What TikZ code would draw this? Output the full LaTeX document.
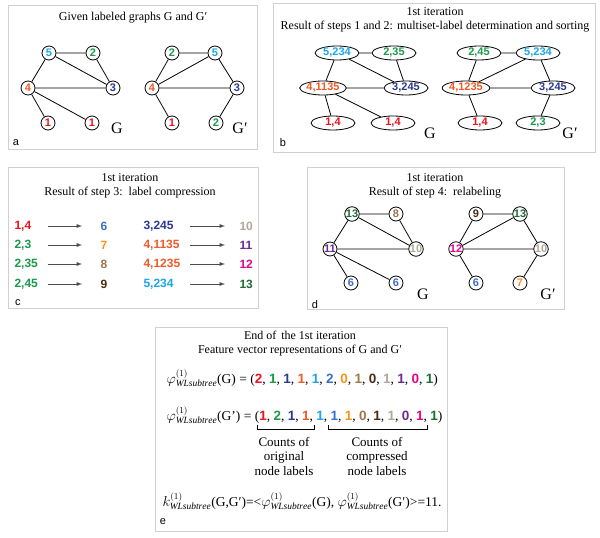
\documentclass[tikz,border=0pt]{standalone}
\usepackage{fontspec}
\setmainfont{Liberation Serif}
\setsansfont{Liberation Sans}
\usetikzlibrary{shapes.geometric,decorations.pathreplacing}
\definecolor{c1}{HTML}{E8141E}\definecolor{c2}{HTML}{1A9A4A}\definecolor{c3}{HTML}{2B3990}
\definecolor{c4}{HTML}{F15A29}\definecolor{c5}{HTML}{1CA6E6}\definecolor{c6}{HTML}{3B6FC4}
\definecolor{c7}{HTML}{F7941D}\definecolor{c8}{HTML}{A0764A}\definecolor{c9}{HTML}{4B2C12}
\definecolor{c10}{HTML}{B0A89C}\definecolor{c11}{HTML}{6A2C91}\definecolor{c12}{HTML}{EC008C}
\definecolor{c13}{HTML}{1E6B34}\definecolor{frm}{HTML}{D0D0D0}
\newcommand\cn[2]{\textcolor{#1}{\textsf{\bfseries #2}}}
\newcommand\phiw{$\varphi^{(1)}_{\mathit{WLsubtree}}$}
\begin{document}
\begin{tikzpicture}[x=1pt,y=-1pt,
  panel/.style={draw=frm,line width=1pt},
  v/.style={circle,draw,line width=0.8pt,minimum size=14pt,inner sep=0pt,font=\sffamily\bfseries\fontsize{11}{12}\selectfont},
  e/.style={ellipse,draw,line width=0.8pt,minimum width=44pt,minimum height=14pt,inner sep=0pt,font=\sffamily\bfseries\fontsize{11}{12}\selectfont},
  ed/.style={line width=0.8pt},
  ttl/.style={font=\fontsize{12}{14}\selectfont,align=center},
  gl/.style={font=\fontsize{16}{17}\selectfont},
  pl/.style={font=\sffamily\fontsize{11}{12}\selectfont},
  cl/.style={font=\sffamily\bfseries\fontsize{12}{13}\selectfont,anchor=west},
  ar/.style={-latex,line width=0.9pt,draw=black!70},
  vec/.style={font=\fontsize{13.5}{15}\selectfont,anchor=west},
  cnt/.style={font=\fontsize{13}{14.5}\selectfont,align=center}]
\useasboundingbox (0,0) rectangle (600,538);
\fill[white] (0,0) rectangle (600,538);
% panel a
\draw[panel] (8,5) rectangle (257,149);
\node[ttl] (ta) at (133,18) {Given labeled graphs G and G′};
\node[pl] (la) at (16,143) {a};
\node[v,text=c5] (a5) at (49,53) {5};
\node[v,text=c2] (a2) at (93,53) {2};
\node[v,text=c4] (a4) at (28,88) {4};
\node[v,text=c3] (a3) at (113,88) {3};
\node[v,text=c1] (a1) at (48,123) {1};
\node[v,text=c1] (a1b) at (92,123) {1};
\node[gl] (aG) at (117,128) {G};
\draw[ed] (a5)--(a2) (a5)--(a4) (a5)--(a3) (a2)--(a3) (a4)--(a3) (a4)--(a1) (a4)--(a1b);
\node[v,text=c2] (b2) at (172,53) {2};
\node[v,text=c5] (b5) at (215,53) {5};
\node[v,text=c4] (b4) at (152,88) {4};
\node[v,text=c3] (b3) at (237,88) {3};
\node[v,text=c1] (b1) at (172,123) {1};
\node[v,text=c2] (b2b) at (216,123) {2};
\node[gl] (bG) at (240,128) {G′};
\draw[ed] (b2)--(b5) (b2)--(b4) (b5)--(b4) (b5)--(b3) (b4)--(b3) (b4)--(b1) (b3)--(b2b);
% panel b
\draw[panel] (273,3) rectangle (595,152);
\node[ttl] (tb) at (435,20) {1st iteration\\Result of steps 1 and 2: multiset-label determination and sorting};
\node[pl] (lb) at (283,143) {b};
\node[e,text=c5] (c5) at (337,53) {5,234};
\node[e,text=c2] (c2) at (394,53) {2,35};
\node[e,text=c4] (c4) at (323,88) {4,1135};
\node[e,text=c3] (c3) at (406,88) {3,245};
\node[e,text=c1] (c1) at (333,123) {1,4};
\node[e,text=c1] (c1b) at (393,123) {1,4};
\node[gl] (cG) at (430,133) {G};
\draw[ed] (c5)--(c2) (c5)--(c4) (c5)--(c3) (c2)--(c3) (c4)--(c3) (c4)--(c1) (c4)--(c1b);
\node[e,text=c2] (d2) at (479,53) {2,45};
\node[e,text=c5] (d5) at (538,53) {5,234};
\node[e,text=c4] (d4) at (466,88) {4,1235};
\node[e,text=c3] (d3) at (553,88) {3,245};
\node[e,text=c1] (d1) at (480,123) {1,4};
\node[e,text=c2] (d2b) at (538,123) {2,3};
\node[gl] (dG) at (570,133) {G′};
\draw[ed] (d2)--(d5) (d2)--(d4) (d5)--(d4) (d5)--(d3) (d4)--(d3) (d4)--(d1) (d3)--(d2b);
% panel c
\draw[panel] (8,167) rectangle (258,308);
\node[ttl] (tc) at (130,186) {1st iteration\\Result of step 3:\, label compression};
\node[pl] (lc) at (18,303) {c};
\foreach \i/\y/\l/\lc/\r/\rc/\L/\Lc/\R/\Rc in {1/226/{1,4}/c1/6/c6/{3,245}/c3/10/c10, 2/245/{2,3}/c2/7/c7/{4,1135}/c4/11/c11, 3/264/{2,35}/c2/8/c8/{4,1235}/c4/12/c12, 4/284/{2,45}/c2/9/c9/{5,234}/c5/13/c13}{
  \node[cl,text=\lc] (l\i) at (11,\y) {\l};
  \node[cl,text=\rc] (r\i) at (97,\y) {\r};
  \node[cl,text=\Lc] (L\i) at (140,\y) {\L};
  \node[cl,text=\Rc] (R\i) at (236,\y) {\R};
  \coordinate (p\i) at (48,\y); \coordinate (q\i) at (82,\y);
  \coordinate (P\i) at (190,\y); \coordinate (Q\i) at (225,\y);
  \draw[ar] (p\i)--(q\i); \draw[ar] (P\i)--(Q\i);}
% panel d
\draw[panel] (307,167) rectangle (564,309);
\node[ttl] (td) at (435,186) {1st iteration\\Result of step 4:\, relabeling};
\node[pl] (ld) at (315,305) {d};
\node[v,text=c13] (f13) at (352,214) {13};
\node[v,text=c8] (f8) at (396,214) {8};
\node[v,text=c11] (f11) at (330,249) {11};
\node[v,text=c10] (f10) at (416,249) {10};
\node[v,text=c6] (f6) at (351,283) {6};
\node[v,text=c6] (f6b) at (396,283) {6};
\node[gl] (fG) at (423,294) {G};
\draw[ed] (f13)--(f8) (f13)--(f11) (f13)--(f10) (f8)--(f10) (f11)--(f10) (f11)--(f6) (f11)--(f6b);
\node[v,text=c9] (g9) at (476,214) {9};
\node[v,text=c13] (g13) at (520,214) {13};
\node[v,text=c12] (g12) at (456,249) {12};
\node[v,text=c10] (g10) at (541,249) {10};
\node[v,text=c6] (g6) at (476,283) {6};
\node[v,text=c7] (g7) at (520,283) {7};
\node[gl] (gG) at (548,294) {G′};
\draw[ed] (g9)--(g13) (g9)--(g12) (g13)--(g12) (g13)--(g10) (g12)--(g10) (g12)--(g6) (g10)--(g7);
% panel e
\draw[panel] (155,327) rectangle (447,531);
\node[ttl] (te) at (300,344) {End of\, the 1st iteration\\Feature vector representations of G and G′};
\node[pl] (le) at (163,522) {e};
\node[vec] (v1) at (163,378) {\phiw(G) = (\cn{c1}{2}, \cn{c2}{1}, \cn{c3}{1}, \cn{c4}{1}, \cn{c5}{1}, \cn{c6}{2}, \cn{c7}{0}, \cn{c8}{1}, \cn{c9}{0}, \cn{c10}{1}, \cn{c11}{1}, \cn{c12}{0}, \cn{c13}{1})};
\node[vec] (v2) at (163,415) {\phiw(G’) = (\cn{c1}{1}, \cn{c2}{2}, \cn{c3}{1}, \cn{c4}{1}, \cn{c5}{1}, \cn{c6}{1}, \cn{c7}{1}, \cn{c8}{0}, \cn{c9}{1}, \cn{c10}{1}, \cn{c11}{0}, \cn{c12}{1}, \cn{c13}{1})};
\coordinate (br1a) at (257,429); \coordinate (br1b) at (314,429);
\coordinate (br2a) at (328,429); \coordinate (br2b) at (427,429);
\draw[line width=0.8pt] (br1a)--++(0,-4) (br1a)--(br1b)--++(0,-4);
\draw[line width=0.8pt] (br2a)--++(0,-4) (br2a)--(br2b)--++(0,-4);
\node[cnt] (n1) at (284,456) {Counts of\\original\\node labels};
\node[cnt] (n2) at (377,456) {Counts of\\compressed\\node labels};
\node[vec] (k) at (159,501) {$k^{(1)}_{\mathit{WLsubtree}}$(G,G′)=<\phiw(G), \phiw(G′)>=11.};
\end{tikzpicture}
\end{document}
